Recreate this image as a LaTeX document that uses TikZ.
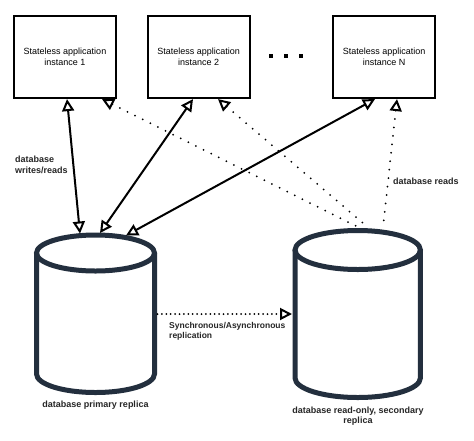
\documentclass[tikz,border=0pt]{standalone}
\usepackage{fontspec}
\setmainfont{Liberation Sans}
\usetikzlibrary{arrows.meta}
\definecolor{navy}{HTML}{232F3E}
\begin{document}
\begin{tikzpicture}[x=1pt,y=-1pt,
  >={Triangle[open,length=12pt,width=12pt]},
  appbox/.style={draw, line width=2.2pt, minimum width=102pt, minimum height=82pt,
    align=center, font=\fontsize{9}{11}\selectfont, inner sep=0pt},
  lbl/.style={font=\bfseries\fontsize{9}{10.5}\selectfont, inner sep=0pt, text=black!85},
  smlbl/.style={font=\bfseries\fontsize{8.5}{10}\selectfont, inner sep=0pt, text=black!85},
  solidcon/.style={line width=2pt},
  dotcon/.style={line width=2pt, line cap=round, dash pattern=on 0pt off 8.5pt},
  repcon/.style={line width=2pt, line cap=round, dash pattern=on 0pt off 4.4pt},
  dbshape/.style={navy, line width=5pt},
  dotsq/.style={fill=black, minimum size=4pt, inner sep=0pt}]
\useasboundingbox (0,0) rectangle (474,440);
\fill[white] (0,0) rectangle (474,440);

% application boxes
\node[appbox] (b1) at (65,57) {Stateless application\\instance 1};
\node[appbox] (b2) at (198.7,57) {Stateless application\\instance 2};
\node[appbox] (b3) at (384.2,57) {Stateless application\\instance N};
\node[dotsq] (d1) at (270.7,56) {};
\node[dotsq] (d2) at (285.5,56) {};
\node[dotsq] (d3) at (301,56) {};

% primary cylinder
\draw[dbshape, fill=white] (36.5,253) -- (36.5,374)
  arc[start angle=180, end angle=360, x radius=59pt, y radius=18.5pt] -- (154.5,253);
\draw[dbshape] (95.5,253) ellipse[x radius=59pt, y radius=18pt];
% secondary cylinder
\draw[dbshape, fill=white] (295,250) -- (295,378)
  arc[start angle=180, end angle=360, x radius=62.7pt, y radius=19.5pt] -- (420.4,250);
\draw[dbshape] (357.7,250) ellipse[x radius=62.7pt, y radius=19.5pt];

% connector end points on the cylinders
\coordinate (p1) at (80,233.5);
\coordinate (p2) at (100,233);
\coordinate (p3) at (126,235.5);
\coordinate (s1) at (357,226.5);
\coordinate (s2) at (367,226.5);
\coordinate (s3) at (383,227.5);
\coordinate (pr) at (157.5,314);
\coordinate (sl) at (292,314);

% read/write connectors
\draw[solidcon,<->] ([xshift=2pt]b1.south) -- (p1);
\draw[solidcon,<->] ([xshift=-5.7pt]b2.south) -- (p2);
\draw[solidcon,<->] ([xshift=-9.2pt]b3.south) -- (p3);
% read connectors
\draw[dotcon,<-] ([xshift=37pt]b1.south) -- (s1);
\draw[dotcon,<-] ([xshift=19.3pt]b2.south) -- (s2);
\draw[dotcon,<-] ([xshift=12.8pt]b3.south) -- (s3);
% replication
\draw[repcon,->] (pr) -- (sl);

% labels
\node[lbl, anchor=west, align=left] (lwr) at (15,165) {database\\writes/reads};
\node[lbl, anchor=west] (lrd) at (393,181) {database reads};
\node[smlbl, anchor=west, align=left] (lrep) at (169,331) {Synchronous/Asynchronous\\replication};
\node[lbl] (lpri) at (95.5,405) {database primary replica};
\node[lbl, align=center] (lsec) at (358,416) {database read-only, secondary\\replica};
\end{tikzpicture}
\end{document}
